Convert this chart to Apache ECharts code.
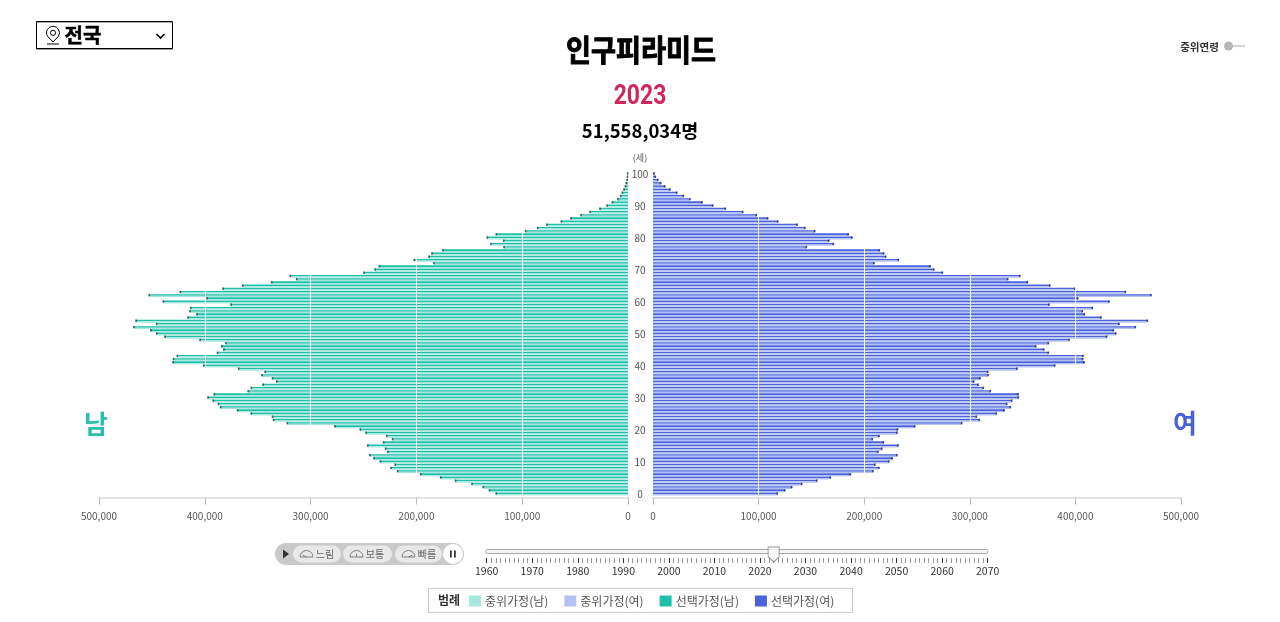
<!DOCTYPE html>
<html>
<head>
<meta charset="utf-8">
<title>인구피라미드</title>
<script src="https://cdn.jsdelivr.net/npm/echarts@6/dist/echarts.min.js"></script>
<style>
html, body { margin: 0; padding: 0; background: #fff; }
#chart { width: 1280px; height: 622px; }
</style>
</head>
<body>
<div id="chart"></div>
<script>
var KR = '"Noto Sans CJK KR", "Noto Sans", sans-serif';

// age 0 .. 100
var ages = [];
for (var a = 0; a <= 100; a++) { ages.push(String(a)); }

var maleValues = [
    124500, 131000, 137000, 147500, 163000, 177000, 196000, 217700, 224000, 220000,
    234000, 240000, 244000, 227000, 229000, 246000, 231000, 222500, 228000, 247600,
    253000, 277000, 322000, 335000, 336000, 356000, 369000, 385000, 387000, 392000,
    397000, 391000, 359000, 356000, 345000, 332000, 336000, 346000, 343000, 368000,
    401000, 430000, 429500, 426000, 388000, 382000, 384000, 380000, 404500, 437600,
    445500, 451000, 467000, 445500, 465000, 415900, 407400, 414000, 413300, 375200,
    439200, 397900, 452500, 423200, 382800, 364200, 336800, 313100, 319200, 249500,
    239100, 235000, 183400, 202000, 188000, 185300, 174900, 117200, 129500, 117500,
    133000, 124500, 96700, 85400, 76600, 63000, 53900, 44400, 35900, 26500,
    19800, 14800, 9700, 6900, 5400, 3800, 2500, 1600, 900, 500, 300
];
var femaleValues = [
    117700, 124700, 131300, 140800, 155000, 167900, 186900, 208300, 214000, 210000,
    223200, 226600, 231000, 213000, 216600, 232000, 218100, 207700, 214000, 231000,
    231500, 247800, 292300, 309000, 306200, 325100, 332400, 338400, 334900, 339700,
    346000, 345700, 319400, 312800, 307800, 303700, 309700, 317200, 316900, 344700,
    380400, 408200, 406900, 407200, 374400, 370000, 362400, 374400, 394000, 429600,
    438200, 435900, 456700, 441300, 468100, 424200, 408400, 406500, 416000, 375000,
    431800, 402200, 471600, 447300, 399300, 375700, 354500, 335900, 347300, 274000,
    265800, 262300, 209300, 232300, 220300, 218400, 214300, 145200, 170700, 166400,
    188400, 184900, 153100, 143900, 136400, 118100, 108600, 97800, 84900, 68500,
    56500, 46400, 35000, 28700, 22400, 16100, 11100, 7300, 4500, 2200, 1000
];

var seriesNames = ['중위가정(남)', '중위가정(여)', '선택가정(남)', '선택가정(여)'];
var seriesColors = ['#a6e8de', '#b3c0f0', '#1fc0ab', '#4a63dc'];

var sliderYear = 2023;
var speedNames = ['느림', '보통', '빠름'];

function tips(values) {
    return values.map(function (v, i) { return [v, i]; });
}

function barSeries(name, color, axisIndex, values, width) {
    return {
        name: name,
        type: 'bar',
        xAxisIndex: axisIndex,
        yAxisIndex: axisIndex,
        data: values,
        barWidth: width,
        barGap: 0,
        itemStyle: { color: color }
    };
}

function tipSeries(color, axisIndex, values) {
    return {
        type: 'scatter',
        xAxisIndex: axisIndex,
        yAxisIndex: axisIndex,
        data: tips(values),
        symbol: 'rect',
        symbolSize: [1.6, 2.4],
        symbolOffset: [0, -0.5],
        itemStyle: { color: color },
        z: 4
    };
}

function valueAxis(gridIndex, inverse) {
    return {
        type: 'value',
        gridIndex: gridIndex,
        inverse: inverse,
        min: 0,
        max: 500000,
        interval: 100000,
        position: 'bottom',
        offset: 2,
        z: 5,
        axisLine: { show: true, lineStyle: { color: '#dcdcdc', width: 1.5 } },
        axisTick: { show: true, length: 7, lineStyle: { color: '#bbb' } },
        axisLabel: { fontFamily: KR, fontSize: 10, color: '#555', margin: 14 },
        splitLine: {
            show: true,
            showMinLine: false,
            showMaxLine: false,
            lineStyle: { color: '#fff', width: 1 }
        }
    };
}

function text(x, y, str, size, color, weight, extra, scaleX) {
    var style = {
        x: x, y: y, text: str, fill: color,
        fontFamily: KR, fontSize: size, fontWeight: weight || 'normal',
        align: 'center', verticalAlign: 'middle'
    };
    for (var k in extra || {}) { style[k] = extra[k]; }
    var el = { type: 'text', style: style, z: 10 };
    if (scaleX) {
        el.scaleX = scaleX;
        el.originX = x;
        el.originY = y;
    }
    return el;
}

function stroke(color, width) {
    return { fill: 'none', stroke: color, lineWidth: width };
}

var graphics = [
    // region select box
    { type: 'rect', shape: { x: 36.5, y: 21.5, width: 136, height: 27 }, style: { fill: '#fff', stroke: '#000', lineWidth: 1, shadowColor: 'rgba(0,0,0,0.3)', shadowOffsetY: 1 } },
    { type: 'arc', shape: { cx: 53, cy: 32.8, r: 6.5, startAngle: Math.PI * 0.8, endAngle: Math.PI * 0.2, clockwise: true }, style: stroke('#000', 1), z: 10 },
    { type: 'polyline', shape: { points: [[47.8, 36.6], [53, 42], [58.2, 36.6]] }, style: stroke('#000', 1), z: 10 },
    { type: 'line', shape: { x1: 47, y1: 44, x2: 59, y2: 44 }, style: stroke('#000', 1), z: 10 },
    { type: 'circle', shape: { cx: 53, cy: 32.8, r: 2.6 }, style: stroke('#000', 1), z: 10 },
    text(83, 35, '전국', 20, '#000', 'bold', { stroke: '#000', lineWidth: 0.5 }),
    { type: 'polyline', shape: { points: [[156.5, 34], [160.5, 38], [164.5, 34]] }, style: stroke('#000', 1.6), z: 10 },

    // headings
    text(641, 50, '인구피라미드', 30, '#000', 'bold', { stroke: '#000', lineWidth: 1 }, 0.905),
    text(640, 97.5, '2023', 27, '#d0265a', 'bold', { fontFamily: 'Roboto' }, 0.85),
    text(640, 131, '51,558,034명', 18.5, '#000', 'bold'),
    text(640, 158, '(세)', 9, '#555'),
    text(96, 424, '남', 26, '#2bbfae', 'bold'),
    text(1185, 423, '여', 26, '#4a63d8', 'bold'),

    // median age toggle
    text(1199.5, 47, '중위연령', 10.5, '#333', 'bold'),
    { type: 'line', shape: { x1: 1229, y1: 46, x2: 1245, y2: 46 }, style: { stroke: '#aaa', lineWidth: 1 } },
    { type: 'circle', shape: { cx: 1228.5, cy: 46, r: 4.5 }, style: { fill: '#b5b5b5' } },

    // play controls
    { type: 'rect', shape: { x: 275, y: 543, width: 189, height: 22, r: 11 }, style: { fill: '#c9c9c9' } },
    { type: 'polygon', shape: { points: [[283, 549.5], [289, 554], [283, 558.5]] }, style: { fill: '#333' }, z: 10 },
    { type: 'circle', shape: { cx: 453, cy: 554, r: 10 }, style: { fill: '#fff' }, z: 8 },
    { type: 'rect', shape: { x: 450, y: 550.5, width: 1.8, height: 7 }, style: { fill: '#333' }, z: 10 },
    { type: 'rect', shape: { x: 454, y: 550.5, width: 1.8, height: 7 }, style: { fill: '#333' }, z: 10 },

    // slider track
    { type: 'rect', shape: { x: 485.5, y: 549.5, width: 502.5, height: 4, r: 2 }, style: { fill: '#f4f4f4', stroke: '#aaa', lineWidth: 1 } },

    // legend box
    { type: 'rect', shape: { x: 428.5, y: 588.5, width: 424, height: 24 }, style: { fill: '#fff', stroke: '#ccc', lineWidth: 1 } },
    text(449, 600.5, '범례', 12, '#333', 'bold')
];

// speed buttons, needle ends differ per speed
[[293, 48, -4, 2], [343, 49, 0, 3.5], [395, 47, 4, 2]].forEach(function (b, i) {
    var cx = b[0] + 13.5;
    graphics.push({ type: 'rect', shape: { x: b[0], y: 545.5, width: b[1], height: 17, r: 8.5 }, style: { fill: '#e8e8e8' }, z: 5 });
    graphics.push({ type: 'arc', shape: { cx: cx, cy: 557, r: 6.5, startAngle: Math.PI, endAngle: 0, clockwise: true }, style: stroke('#666', 0.8), z: 10 });
    graphics.push({ type: 'line', shape: { x1: cx - 6.5, y1: 557, x2: cx + 6.5, y2: 557 }, style: stroke('#666', 0.8), z: 10 });
    graphics.push({ type: 'line', shape: { x1: cx, y1: 557, x2: cx + b[2], y2: 557 - b[3] }, style: stroke('#666', 0.8), z: 10 });
    graphics.push(text(b[0] + 32, 554, speedNames[i], 10, '#666'));
});

var myChart = echarts.init(document.getElementById('chart'));

myChart.setOption({
    animation: false,
    textStyle: { fontFamily: KR },
    grid: [
        { left: 99, width: 529, top: 172.4, height: 323.2 },
        { left: 653, width: 528, top: 172.4, height: 323.2 },
        { left: 486.7, width: 501, top: 549, height: 9 }
    ],
    legend: {
        data: seriesNames,
        left: 469,
        top: 595,
        itemWidth: 12,
        itemHeight: 11,
        itemGap: 16,
        padding: 0,
        icon: 'rect',
        selectedMode: false,
        textStyle: { fontFamily: KR, fontSize: 12, color: '#555', padding: [0, 0, 0, -1] }
    },
    xAxis: [
        valueAxis(0, true),
        valueAxis(1, false),
        {
            type: 'value',
            gridIndex: 2,
            min: 1960,
            max: 2070,
            interval: 10,
            axisLine: { show: false },
            axisTick: { show: true, length: 5, lineStyle: { color: '#333' } },
            minorTick: { show: true, splitNumber: 10, length: 5, lineStyle: { color: '#999' } },
            axisLabel: {
                fontFamily: KR, fontSize: 10.5, color: '#333', margin: 8,
                formatter: function (v) { return String(v); }
            },
            splitLine: { show: false }
        }
    ],
    yAxis: [
        {
            type: 'category',
            gridIndex: 0,
            data: ages,
            show: false
        },
        {
            type: 'category',
            gridIndex: 1,
            data: ages,
            position: 'left',
            axisLine: { show: false },
            axisTick: { show: false },
            axisLabel: { interval: 9, align: 'center', margin: 13, fontFamily: KR, fontSize: 10, color: '#555' }
        },
        { type: 'value', gridIndex: 2, min: 0, max: 1, show: false }
    ],
    series: [
        barSeries(seriesNames[2], seriesColors[2], 0, maleValues, 1.6),
        barSeries(seriesNames[0], seriesColors[0], 0, maleValues, 1.3),
        barSeries(seriesNames[3], seriesColors[3], 1, femaleValues, 1.6),
        barSeries(seriesNames[1], seriesColors[1], 1, femaleValues, 1.3),
        tipSeries('#17453f', 0, maleValues),
        tipSeries('#18245f', 1, femaleValues),
        {
            type: 'scatter',
            xAxisIndex: 2,
            yAxisIndex: 2,
            data: [[sliderYear, 0.39]],
            symbol: 'path://M0,0 L10,0 L10,9 L5,14 L0,9 Z',
            symbolSize: [11, 15],
            clip: false,
            itemStyle: { color: '#fff', borderColor: '#777', borderWidth: 1 },
            z: 6
        }
    ],
    graphic: { elements: graphics }
});
</script>
</body>
</html>
